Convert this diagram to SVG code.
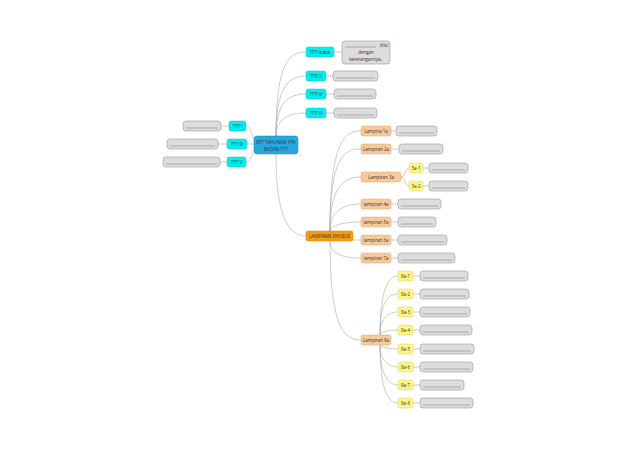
<svg xmlns="http://www.w3.org/2000/svg" width="638" height="451" viewBox="0 0 638 451">
<style>
text{font-family:"Open Sans","DejaVu Sans",sans-serif;font-size:4.5px;fill:#333;text-anchor:middle;dominant-baseline:central}
.c{fill:#00f0f0;stroke:#2bc;stroke-width:.5}
.g{fill:#ddd;stroke:#999;stroke-width:.6}
.o{fill:#f8c99a;stroke:#e9a060;stroke-width:.5}
.y{fill:#fbf58a;stroke:#dcd060;stroke-width:.5}
.u{stroke:#777;stroke-width:.5}
#conn path{fill:none;stroke:#aaa;stroke-width:.6}
</style>
<rect width="638" height="451" fill="#fff"/>
<g id="conn">
<path d="M276 136C276 60 290 52 306 52M276 136C276 85 290 76 306 76M276 136C276 100 290 94 306 94M276 136C276 118 290 113 306 113M276 154C276 220 290 236 306 236"/>
<path d="M254 140C250 128 250 126 246 126M254 144L247 144M254 150C250 160 250 162 246 162M229 126H221M227 144H218M227 162H220"/>
<path d="M334 52H342M326 76H333M326 94H334M326 113H334"/>
<path d="M330 231C330 140 345 131 361 131M330 231C330 155 345 149 361 149M330 231C330 185 345 177 361 177M330 231C330 210 345 204 361 204M330 231C330 225 345 222 361 222M330 241C330 240 345 240 361 240M330 241C330 255 345 258 361 258M330 241C330 330 345 340 361 340"/>
<path d="M391 131H396M391 149H399M391 204H398M391 222H398M391 240H398M391 258H398M401 177C405 177 405 168 409 168M401 177C405 177 405 186 409 186M423 168H429M423 186H429"/>
<path d="M380 335C380 285 390 276 398 276M380 335C380 298 390 294 398 294M380 335C380 316 390 312 398 312M380 335C380 332 390 330 398 330M380 345C380 347 390 349 398 349M380 345C380 362 390 367 398 367M380 345C380 378 390 385 398 385M380 345C380 395 390 403 398 403M413 276H420M413 294H420M413 312H420M413 330H420M413 349H420M413 367H420M413 385H420M413 403H420"/>
</g>
<g id="root"><rect x="254" y="136" width="44" height="18" rx="3" fill="#29a8e0" stroke="#1a88c0" stroke-width=".5"/><text x="276" y="141.5">SPT TAHUNAN PPh</text><text x="276" y="148.5">BADAN ????</text></g>
<g id="t1"><rect class="c" x="229" y="121" width="17" height="10" rx="2"/><text x="237.5" y="126">???? I</text><rect class="g" x="183" y="121" width="38" height="10" rx="3"/><line class="u" x1="186" y1="128" x2="218" y2="128"/></g>
<g id="t3"><rect class="c" x="227" y="139" width="20" height="10" rx="2"/><text x="237" y="144">???? III</text><rect class="g" x="167" y="139" width="51" height="10" rx="3"/><line class="u" x1="170" y1="146" x2="215" y2="146"/></g>
<g id="t5"><rect class="c" x="227" y="157" width="19" height="10" rx="2"/><text x="236.5" y="162">???? V</text><rect class="g" x="163" y="157" width="57" height="10" rx="3"/><line class="u" x1="166" y1="164" x2="217" y2="164"/></g>
<g id="ti"><rect class="c" x="306" y="47" width="28" height="10" rx="2"/><text x="320" y="52">???? Induk</text><rect class="g" x="342" y="41" width="48" height="23" rx="3"/><line class="u" x1="345" y1="47" x2="376" y2="47"/><text x="384" y="45">diisi</text><text x="366" y="52">dengan</text><text x="366" y="59">keterangannya..</text></g>
<g id="t2"><rect class="c" x="306" y="71" width="20" height="10" rx="2"/><text x="316" y="76">???? II</text><rect class="g" x="333" y="71" width="45" height="10" rx="3"/><line class="u" x1="336" y1="78" x2="375" y2="78"/></g>
<g id="t4"><rect class="c" x="306" y="89" width="20" height="10" rx="2"/><text x="316" y="94">???? IV</text><rect class="g" x="334" y="89" width="42" height="10" rx="3"/><line class="u" x1="337" y1="96" x2="373" y2="96"/></g>
<g id="t6"><rect class="c" x="306" y="108" width="20" height="10" rx="2"/><text x="316" y="113">???? VI</text><rect class="g" x="334" y="108" width="43" height="10" rx="3"/><line class="u" x1="337" y1="115" x2="374" y2="115"/></g>
<g id="lk"><rect x="306" y="231" width="47" height="10" rx="2" fill="#f39c12" stroke="#d08010" stroke-width=".5"/><text x="329.5" y="236">LAMPIRAN KHUSUS</text></g>
<g id="l1"><rect class="o" x="361" y="126" width="30" height="10" rx="2"/><text x="376" y="131">Lampira 1a</text><rect class="g" x="396" y="126" width="41" height="10" rx="3"/><line class="u" x1="399" y1="133" x2="434" y2="133"/></g>
<g id="l2"><rect class="o" x="361" y="144" width="30" height="10" rx="2"/><text x="376" y="149">Lampiran 2a</text><rect class="g" x="399" y="144" width="44" height="10" rx="3"/><line class="u" x1="402" y1="151" x2="440" y2="151"/></g>
<g id="l3"><rect class="o" x="361" y="172" width="40" height="10" rx="2"/><text x="381" y="177">Lampiran 3a</text></g>
<g id="l31"><rect class="y" x="409" y="163" width="14" height="10" rx="2"/><text x="416" y="168">3a-1</text><rect class="g" x="429" y="163" width="39" height="10" rx="3"/><line class="u" x1="432" y1="170" x2="465" y2="170"/></g>
<g id="l32"><rect class="y" x="409" y="181" width="14" height="10" rx="2"/><text x="416" y="186">3a-2</text><rect class="g" x="429" y="181" width="39" height="10" rx="3"/><line class="u" x1="432" y1="188" x2="465" y2="188"/></g>
<g id="l4"><rect class="o" x="361" y="199" width="30" height="10" rx="2"/><text x="376" y="204">lampiran 4a</text><rect class="g" x="398" y="199" width="43" height="10" rx="3"/><line class="u" x1="401" y1="206" x2="438" y2="206"/></g>
<g id="l5"><rect class="o" x="361" y="217" width="30" height="10" rx="2"/><text x="376" y="222">lampiran 5a</text><rect class="g" x="398" y="217" width="38" height="10" rx="3"/><line class="u" x1="401" y1="224" x2="433" y2="224"/></g>
<g id="l6"><rect class="o" x="361" y="235" width="30" height="10" rx="2"/><text x="376" y="240">lampiran 6a</text><rect class="g" x="398" y="235" width="49" height="10" rx="3"/><line class="u" x1="401" y1="242" x2="444" y2="242"/></g>
<g id="l7"><rect class="o" x="361" y="253" width="30" height="10" rx="2"/><text x="376" y="258">lampiran 7a</text><rect class="g" x="398" y="253" width="57" height="10" rx="3"/><line class="u" x1="401" y1="260" x2="452" y2="260"/></g>
<g id="l8"><rect class="o" x="361" y="335" width="30" height="10" rx="2"/><text x="376" y="340">Lampiran 8a</text></g>
<g id="a1"><rect class="y" x="398" y="271" width="15" height="10" rx="2"/><text x="405.5" y="276">8a-1</text><rect class="g" x="420" y="271" width="48" height="10" rx="3"/><line class="u" x1="423" y1="278" x2="465" y2="278"/></g>
<g id="a2"><rect class="y" x="398" y="289" width="15" height="10" rx="2"/><text x="405.5" y="294">8a-2</text><rect class="g" x="420" y="289" width="49" height="10" rx="3"/><line class="u" x1="423" y1="296" x2="466" y2="296"/></g>
<g id="a3"><rect class="y" x="398" y="307" width="15" height="10" rx="2"/><text x="405.5" y="312">8a-3</text><rect class="g" x="420" y="307" width="50" height="10" rx="3"/><line class="u" x1="423" y1="314" x2="467" y2="314"/></g>
<g id="a4"><rect class="y" x="398" y="325" width="15" height="10" rx="2"/><text x="405.5" y="330">8a-4</text><rect class="g" x="420" y="325" width="52" height="10" rx="3"/><line class="u" x1="423" y1="332" x2="469" y2="332"/></g>
<g id="a5"><rect class="y" x="398" y="344" width="15" height="10" rx="2"/><text x="405.5" y="349">8a-5</text><rect class="g" x="420" y="344" width="54" height="10" rx="3"/><line class="u" x1="423" y1="351" x2="471" y2="351"/></g>
<g id="a6"><rect class="y" x="398" y="362" width="15" height="10" rx="2"/><text x="405.5" y="367">8a-6</text><rect class="g" x="420" y="362" width="53" height="10" rx="3"/><line class="u" x1="423" y1="369" x2="470" y2="369"/></g>
<g id="a7"><rect class="y" x="398" y="380" width="15" height="10" rx="2"/><text x="405.5" y="385">8a-7</text><rect class="g" x="420" y="380" width="44" height="10" rx="3"/><line class="u" x1="423" y1="387" x2="461" y2="387"/></g>
<g id="a8"><rect class="y" x="398" y="398" width="15" height="10" rx="2"/><text x="405.5" y="403">8a-8</text><rect class="g" x="420" y="398" width="53" height="10" rx="3"/><line class="u" x1="423" y1="405" x2="470" y2="405"/></g>
</svg>
